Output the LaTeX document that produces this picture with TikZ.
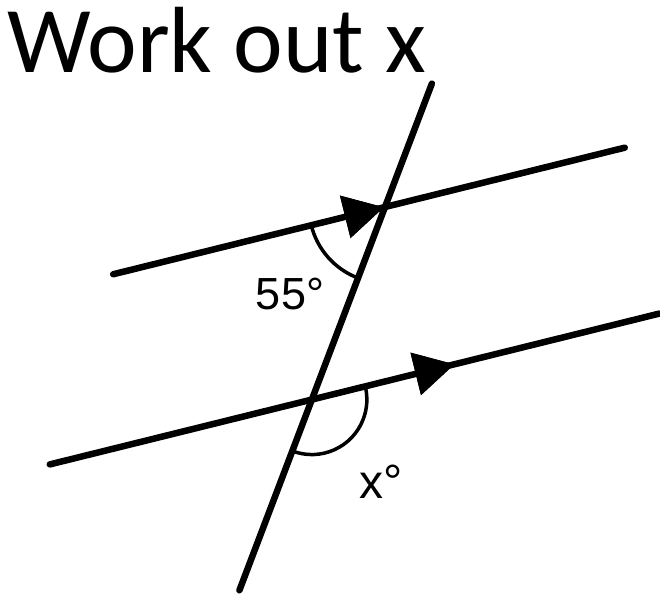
\documentclass[tikz,border=0pt]{standalone}
\usepackage{fontspec}
\usepackage{tkz-euclide}
\usetikzlibrary{arrows.meta,decorations.markings}
\setmainfont{Liberation Sans}
\newfontfamily\titlefont{Carlito}
\tikzset{>=stealth,
  parline/.style={line width=6.5pt},
  arcmark/.style={line width=3.5pt},
  parmark/.style={postaction=decorate,decoration={markings,
    mark=at position #1 with {\arrow{Triangle[length=40pt,width=42pt]}};}}}

\begin{document}
\begin{tikzpicture}[x=1pt,y=1pt]
    \useasboundingbox (0,0) rectangle (660,611);
    \tkzDefPoints{385/404/P}
    \tkzDefShiftPoint[P](193.9:280){U1}
    \tkzDefShiftPoint[P](13.9:247){U2}
    \tkzDefShiftPoint[P](249.2:206){Q}
    \tkzDefShiftPoint[P](69.2:132){T1}
    \tkzDefShiftPoint[Q](249.2:204){T2}
    \tkzDefShiftPoint[Q](193.9:270){L1}
    \tkzDefShiftPoint[Q](13.9:358){L2}
    \tkzDrawSegments[parline](T1,T2)
    \tkzDrawSegments[parline, parmark=279pt](U1,U2)
    \tkzDrawSegments[parline, parmark=417pt](L1,L2)
    \tkzMarkAngle[size=76pt, arcmark](U1,P,Q)
    \tkzMarkAngle[size=55pt, arcmark](T2,Q,L2)
    %\tkzLabelPoints(P,Q,U1,U2,L1,L2,T1,T2)
    \node[anchor=base west, inner sep=0, font=\titlefont\fontsize{94}{100}\selectfont] (title) at (6,538) {Work out x};
    \node[font=\fontsize{45}{50}\selectfont] (given) at (290,317) {55°};
    \node[font=\fontsize{48}{52}\selectfont] (unknown) at (381,129) {x°};
\end{tikzpicture}
\end{document}
